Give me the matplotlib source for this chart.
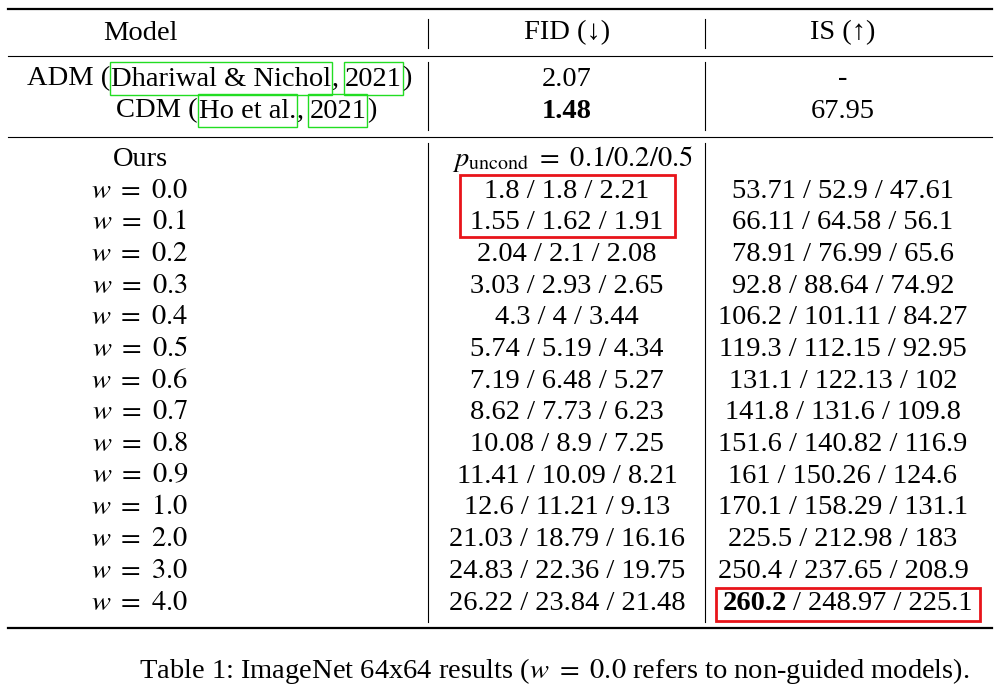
import matplotlib
matplotlib.use("Agg")
import matplotlib.pyplot as plt
from matplotlib.patches import Rectangle

plt.rcParams['font.family'] = ['Liberation Serif', 'DejaVu Serif']
plt.rcParams['mathtext.fontset'] = 'stix'

headers = ["Model", "FID (↓)", "IS (↑)"]
ws = ["0.0", "0.1", "0.2", "0.3", "0.4", "0.5", "0.6", "0.7", "0.8", "0.9", "1.0", "2.0", "3.0", "4.0"]
fid = ["1.8 / 1.8 / 2.21", "1.55 / 1.62 / 1.91", "2.04 / 2.1 / 2.08", "3.03 / 2.93 / 2.65",
       "4.3 / 4 / 3.44", "5.74 / 5.19 / 4.34", "7.19 / 6.48 / 5.27", "8.62 / 7.73 / 6.23",
       "10.08 / 8.9 / 7.25", "11.41 / 10.09 / 8.21", "12.6 / 11.21 / 9.13",
       "21.03 / 18.79 / 16.16", "24.83 / 22.36 / 19.75", "26.22 / 23.84 / 21.48"]
isc = ["53.71 / 52.9 / 47.61", "66.11 / 64.58 / 56.1", "78.91 / 76.99 / 65.6", "92.8 / 88.64 / 74.92",
       "106.2 / 101.11 / 84.27", "119.3 / 112.15 / 92.95", "131.1 / 122.13 / 102",
       "141.8 / 131.6 / 109.8", "151.6 / 140.82 / 116.9", "161 / 150.26 / 124.6",
       "170.1 / 158.29 / 131.1", "225.5 / 212.98 / 183", "250.4 / 237.65 / 208.9",
       "260.2 / 248.97 / 225.1"]
baseline_fid = ["2.07", "1.48"]
baseline_is = ["-", "67.95"]

W, H = 998, 693
fig = plt.figure(figsize=(W/100, H/100), dpi=100)
ax = fig.add_axes([0, 0, 1, 1])
ax.set_xlim(0, W); ax.set_ylim(H, 0); ax.axis('off')
fig.canvas.draw()
r = fig.canvas.get_renderer()
FS = 20.5
X = [140, 567, 843]
SP = 5.5  # space width in px

def pieces(x, y, parts):
    # parts: (text, weight, box, gap_before); chained by drawn extents, starting at left x
    for txt, wt, box, gap in parts:
        x += gap
        t = ax.text(x, y, txt, fontsize=FS, weight=wt, ha='left', va='center')
        bb = t.get_window_extent(r)
        w = bb.width
        if box:
            ax.add_patch(Rectangle((x-1, y-17), w+2, 33, fill=False, ec='#22dd22', lw=1))
        x += w

def T(x, y, s, **kw):
    ax.text(x, y, s, fontsize=FS, ha='center', va='center', **kw)

# rules
ax.plot([8, 992], [9, 9], color='k', lw=1.6)
ax.plot([8, 992], [56, 56], color='k', lw=0.8)
ax.plot([8, 992], [137, 137], color='k', lw=0.8)
ax.plot([8, 992], [628, 628], color='k', lw=1.6)
for xs in (428, 705):
    ax.plot([xs, xs], [19, 48], color='k', lw=0.8)
    ax.plot([xs, xs], [62, 130], color='k', lw=0.8)
    ax.plot([xs, xs], [143, 622], color='k', lw=0.8)

for x, h in zip(X, headers):
    T(x, 33, h)

pieces(27, 79, [("ADM (", 'normal', False, 0), ("Dhariwal & Nichol", 'normal', True, 1),
                (",", 'normal', False, 1), ("2021", 'normal', True, SP), (")", 'normal', False, 1)])
pieces(116, 111, [("CDM (", 'normal', False, 0), ("Ho et al.", 'normal', True, 1),
                  (",", 'normal', False, 1), ("2021", 'normal', True, SP), (")", 'normal', False, 1)])
T(X[1], 79, baseline_fid[0]); T(X[1], 111, baseline_fid[1], weight='bold')
T(X[2], 79, baseline_is[0]); T(X[2], 111, baseline_is[1])

T(X[0], 159, "Ours")
T(X[1] + 5, 159, r"$p_{\mathrm{uncond}}\ =\ 0.1/0.2/0.5$")
y0, dy = 191, 31.7
for i, (w, f, s) in enumerate(zip(ws, fid, isc)):
    y = y0 + i*dy
    T(X[0], y, rf"$w\ =\ {w}$")
    T(X[1], y, f)
    if i == len(ws) - 1:
        a, b = s.split(" ", 1)
        pieces(723, y, [(a, 'bold', False, 0), (b, 'normal', False, SP)])
    else:
        T(X[2], y, s)

ax.add_patch(Rectangle((460, 175), 215, 62, fill=False, ec='#e8141a', lw=2))
ax.add_patch(Rectangle((716, 588), 264, 33, fill=False, ec='#e8141a', lw=2))

ax.text(554, 671, r"Table 1: ImageNet 64x64 results ($w\ =\ 0.0$ refers to non-guided models).",
        fontsize=FS, ha='center', va='center')

fig.savefig("out.png", dpi=100)
